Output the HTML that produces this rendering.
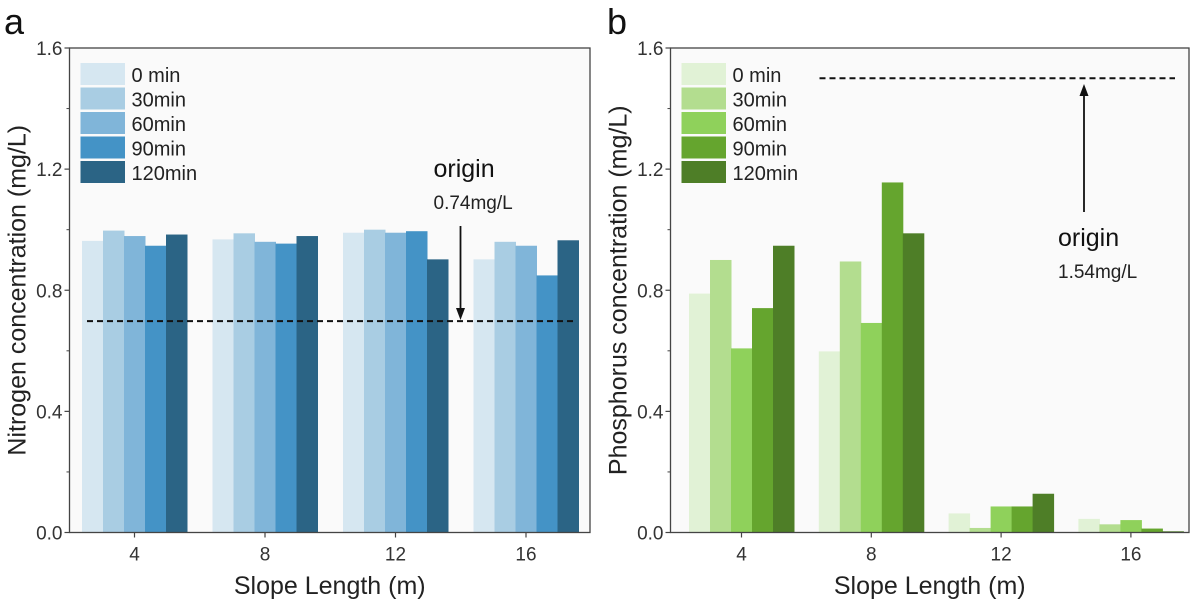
<!DOCTYPE html>
<html><head><meta charset="utf-8">
<style>
html,body{margin:0;padding:0;background:#fff;}
svg{display:block;font-family:"Liberation Sans",Arial,sans-serif;}
</style></head>
<body>
<svg id="fig" width="1200" height="605" viewBox="0 0 1200 605" xmlns="http://www.w3.org/2000/svg"></svg>
<script>
const categories = ["4","8","12","16"];
const seriesNames = ["0 min","30min","60min","90min","120min"];
const yTicks = [0.0,0.4,0.8,1.2,1.6];
const yTickLabels = ["0.0","0.4","0.8","1.2","1.6"];
const nitrogen0 = [0.963,0.968,0.990,0.902];
const nitrogen30 = [0.997,0.988,1.000,0.960];
const nitrogen60 = [0.979,0.960,0.990,0.947];
const nitrogen90 = [0.947,0.954,0.995,0.849];
const nitrogen120 = [0.984,0.979,0.902,0.965];
const phosphorus0 = [0.789,0.598,0.063,0.045];
const phosphorus30 = [0.900,0.895,0.015,0.027];
const phosphorus60 = [0.608,0.692,0.086,0.041];
const phosphorus90 = [0.741,1.156,0.086,0.013];
const phosphorus120 = [0.947,0.988,0.128,0.004];
const nitrogenRef = 0.698;
const phosphorusRef = 1.500;

const NS="http://www.w3.org/2000/svg";
const svg=document.getElementById('fig');
function mk(tag,attrs,parent){const e=document.createElementNS(NS,tag);for(const k in attrs)e.setAttribute(k,attrs[k]);(parent||svg).appendChild(e);return e;}

function panel(o){
  const g=mk('g',{});
  
  
  const L=o.left,R=o.right,T=48,B=532.5;
  const y=v=>B-(v/1.6)*(B-T);
  const x=i=>o.c0+i*o.step;
  const bg=mk('rect',{x:L,y:T,width:R-L,height:B-T,fill:'#fafafa'},g);
  
  
  const bw=21;
  o.series.forEach((s,si)=>{
    s.forEach((v,ci)=>{
      const bx=x(ci)-2.5*bw+si*bw;
      const r=mk('rect',{x:bx,y:y(v),width:bw+0.5,height:B-y(v),fill:o.colors[si]},g);
      
      
    });
  });
  const fr=mk('rect',{x:L,y:T,width:R-L,height:B-T,fill:'none',stroke:'#444','stroke-width':1.3},g);
  
  
  yTicks.forEach((t,i)=>{
    mk('line',{x1:L-5,x2:L,y1:y(t),y2:y(t),stroke:'#444','stroke-width':1.2},g);
    if(i<yTicks.length-1) mk('line',{x1:L-3,x2:L,y1:y(t+0.2),y2:y(t+0.2),stroke:'#444','stroke-width':1},g);
    const tl=mk('text',{x:L-7,y:y(t)+7,'text-anchor':'end','font-size':19,fill:'#333'},g);
    tl.textContent=yTickLabels[i];
    
    
  });
  categories.forEach((c,ci)=>{
    mk('line',{x1:x(ci),x2:x(ci),y1:B,y2:B+5,stroke:'#444','stroke-width':1.2},g);
    const tl=mk('text',{x:x(ci),y:B+28,'text-anchor':'middle','font-size':19,fill:'#333'},g);
    tl.textContent=c;
    
    
  });
  const xt=mk('text',{x:(L+R)/2,y:594,'text-anchor':'middle','font-size':25,fill:'#222'},g);
  xt.textContent='Slope Length (m)';
  
  
  const yt=mk('text',{x:0,y:0,'text-anchor':'middle','font-size':25,fill:'#222',transform:`translate(${L-44},${(T+B)/2}) rotate(-90)`},g);
  yt.textContent=o.ytitle;
  
  
  const pl=mk('text',{x:o.labelX,y:34,'font-size':36,fill:'#111'},g);
  pl.textContent=o.key;
  
  
  seriesNames.forEach((n,si)=>{
    const sw=mk('rect',{x:L+11,y:63+si*24.5,width:44.5,height:22,fill:o.colors[si]},g);
    
    
    const lt=mk('text',{x:L+62,y:82+si*24.5,'font-size':20,fill:'#222'},g);
    lt.textContent=n;
    
    
  });
  const dl=mk('line',{x1:o.refX1,x2:o.refX2,y1:y(o.ref),y2:y(o.ref),stroke:'#111','stroke-width':2,'stroke-dasharray':'6,4'},g);
  
  
  const ag=mk('g',{},g);
  
  
  mk('line',{x1:o.arrowX,x2:o.arrowX,y1:o.arrowY1,y2:o.arrowY2+(o.arrowY2>o.arrowY1?-10:10),stroke:'#111','stroke-width':1.8},ag);
  const d=o.arrowY2>o.arrowY1?-12:12;
  mk('path',{d:`M${o.arrowX},${o.arrowY2} L${o.arrowX-4.5},${o.arrowY2+d} L${o.arrowX+4.5},${o.arrowY2+d} Z`,fill:'#111'},ag);
  const ot=mk('text',{x:o.originX,y:o.originY,'font-size':25,fill:'#111'},g);
  ot.textContent='origin';
  
  
  const vt=mk('text',{x:o.originX,y:o.valY,'font-size':19,fill:'#222'},g);
  vt.textContent=o.valText;
  
  
}

panel({key:'a',left:69.5,right:590,c0:134.5,step:130.5,labelX:4,
  series:[nitrogen0,nitrogen30,nitrogen60,nitrogen90,nitrogen120],
  colors:['#d6e7f1','#a9cde3','#80b5d9','#4493c6','#2b6485'],
  ytitle:'Nitrogen concentration (mg/L)',ref:nitrogenRef,refX1:87,refX2:576,
  arrowX:460.5,arrowY1:226,arrowY2:320,originX:433.5,originY:177,valY:209,valText:'0.74mg/L'});
panel({key:'b',left:670.5,right:1189,c0:741.5,step:129.8,labelX:607,
  series:[phosphorus0,phosphorus30,phosphorus60,phosphorus90,phosphorus120],
  colors:['#e1f2d6','#b3dd8f','#8fd15b','#65a52e','#4e7e27'],
  ytitle:'Phosphorus concentration (mg/L)',ref:phosphorusRef,refX1:819.5,refX2:1175,
  arrowX:1084,arrowY1:212,arrowY2:84,originX:1058,originY:246,valY:278,valText:'1.54mg/L'});
</script>
</body></html>
